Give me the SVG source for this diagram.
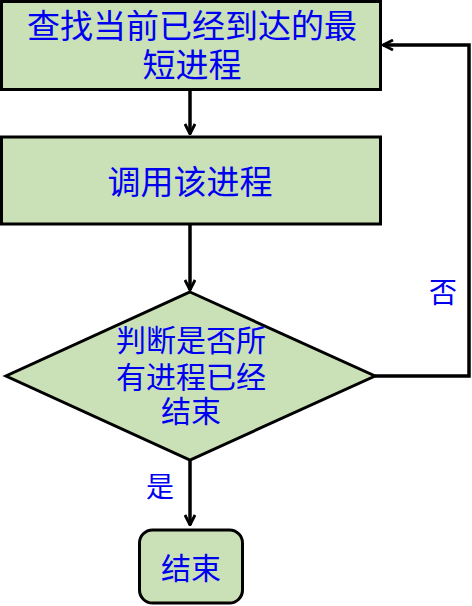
<svg xmlns="http://www.w3.org/2000/svg" width="472" height="606" viewBox="0 0 472 606">
<defs>
<marker id="arr" viewBox="0 0 12 12" refX="11" refY="6" markerWidth="12" markerHeight="12" markerUnits="userSpaceOnUse" orient="auto">
<path d="M1,1 L11,6 L1,11" fill="none" stroke="#000" stroke-width="2.8"/>
</marker>
</defs>
<style>
.node{fill:#cae0b7;stroke:#000;stroke-width:3}
.t{font-family:"Liberation Serif","Noto Sans CJK SC",serif;fill:#0000f0;text-anchor:middle}
.c{fill:none;stroke:#000;stroke-width:3.5}
</style>
<rect width="472" height="606" fill="#fff"/>
<g id="connectors">
<line class="c" x1="190" y1="90" x2="190" y2="134" marker-end="url(#arr)"/>
<line class="c" x1="190" y1="225" x2="190" y2="290" marker-end="url(#arr)"/>
<polyline class="c" points="375,376 469,376 469,45 383,45" marker-end="url(#arr)"/>
<line class="c" x1="190" y1="460" x2="190" y2="525" marker-end="url(#arr)"/>
<text class="t" x="443" y="303" font-size="28">否</text>
<text class="t" x="160" y="497" font-size="28">是</text>
</g>
<g id="n1">
<rect class="node" x="1.5" y="1.5" width="379" height="88"/>
<text class="t" x="192" y="38" font-size="33">查找当前已经到达的最</text>
<text class="t" x="192" y="77" font-size="33">短进程</text>
</g>
<g id="n2">
<rect class="node" x="1.5" y="137" width="379" height="87"/>
<text class="t" x="190" y="194" font-size="33">调用该进程</text>
</g>
<g id="n3">
<polygon class="node" points="190,292 375,376 190,460 6,376" stroke-width="2.5"/>
<text class="t" x="191" y="351" font-size="30">判断是否所</text>
<text class="t" x="191" y="388" font-size="30">有进程已经</text>
<text class="t" x="191" y="422" font-size="30">结束</text>
</g>
<g id="n4">
<rect class="node" x="139.5" y="530" width="103" height="73" rx="13" stroke-width="2.5"/>
<text class="t" x="191" y="579" font-size="30">结束</text>
</g>
</svg>
